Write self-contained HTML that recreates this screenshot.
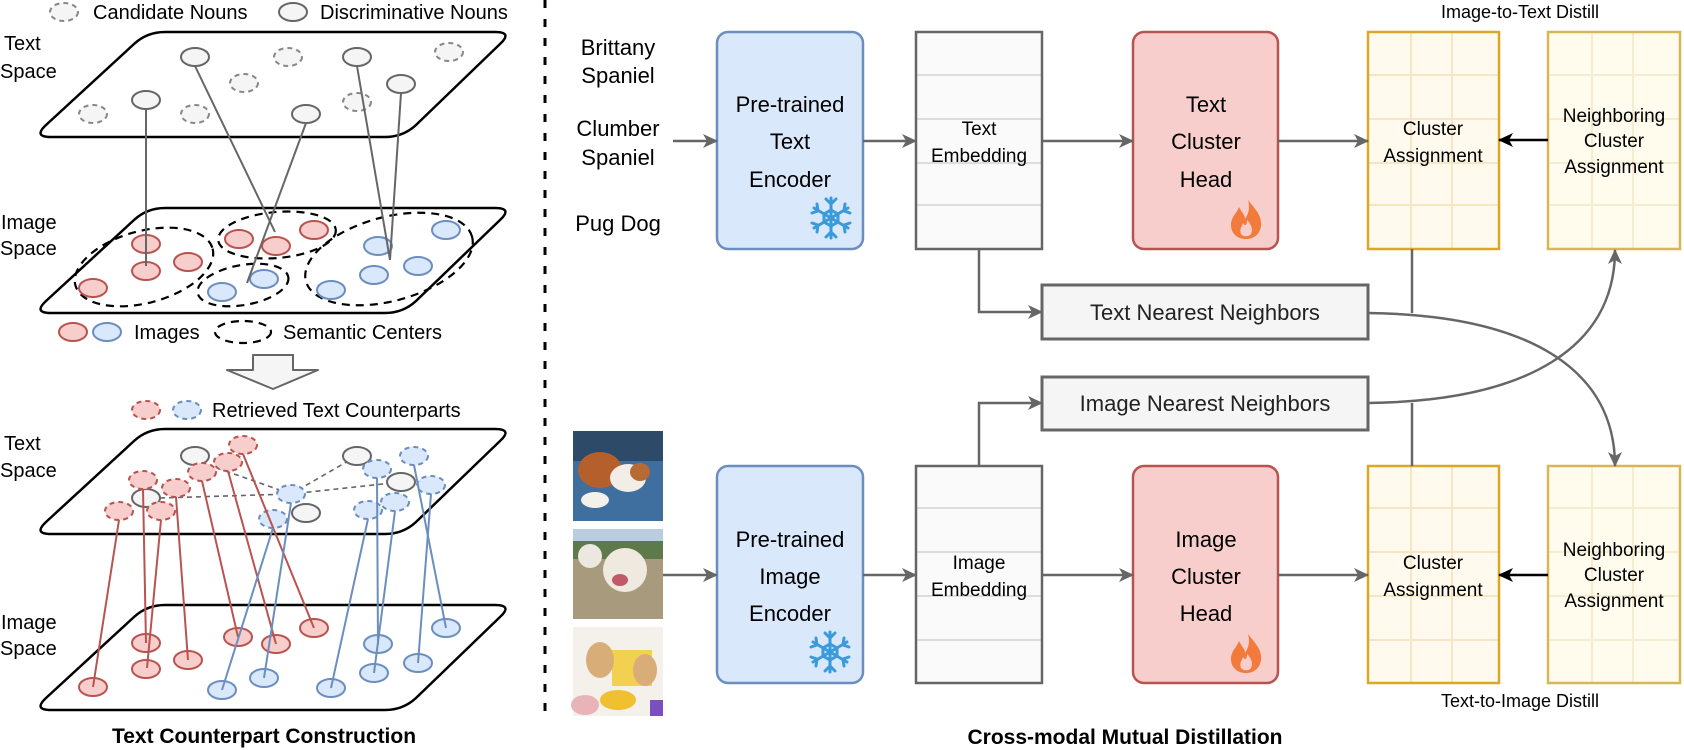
<!DOCTYPE html>
<html><head><meta charset="utf-8"><style>
html,body{margin:0;padding:0;background:#fff;}
svg{display:block;font-family:"Liberation Sans",Arial,sans-serif;}
</style></head><body>
<svg width="1684" height="750" viewBox="0 0 1684 750" xmlns="http://www.w3.org/2000/svg">
<defs>
<marker id="ag" markerUnits="userSpaceOnUse" markerWidth="16" markerHeight="14" refX="14" refY="7" orient="auto"><path d="M0,0 L15,7 L0,14 L4,7 Z" fill="#666"/></marker>
<marker id="ab" markerUnits="userSpaceOnUse" markerWidth="16" markerHeight="14" refX="14" refY="7" orient="auto"><path d="M0,0 L15,7 L0,14 L4,7 Z" fill="#000"/></marker>
<g id="snow" stroke="#3b9ad9" stroke-width="3" fill="none" stroke-linecap="round">
<line x1="0" y1="-20" x2="0" y2="20"/><line x1="-17" y1="-10" x2="17" y2="10"/><line x1="-17" y1="10" x2="17" y2="-10"/>
<polygon points="0,-8 7,-4 7,4 0,8 -7,4 -7,-4"/>
<path d="M-5,-19 L0,-14 L5,-19 M-5,19 L0,14 L5,19 M-19,-5 L-13,-7 L-14,-14 M19,5 L13,7 L14,14 M19,-5 L13,-7 L14,-14 M-19,5 L-13,7 L-14,14"/>
</g>
<g id="fire"><path d="M2,-20 C10,-10 16,-4 15,6 C14,14 8,19 0,19 C-8,19 -15,14 -15,5 C-15,-3 -9,-7 -7,-13 C-4,-7 -1,-5 -1,-1 C3,-7 4,-13 2,-20 Z" fill="#f27a3a"/><path d="M1,0 C6,5 7,10 5,14 C3,17 -3,17 -5,14 C-7,10 -4,6 -3,3 C-1,6 1,6 1,0 Z" fill="#f8cecc"/></g>
</defs>

<!-- ============ LEFT PANEL ============ -->
<g font-size="20" fill="#000">
<!-- legend 1 -->
<ellipse cx="64" cy="12" rx="14" ry="9" fill="#f5f5f5" stroke="#888" stroke-width="2" stroke-dasharray="5 4"/>
<text x="93" y="19">Candidate Nouns</text>
<ellipse cx="293" cy="12" rx="14" ry="9" fill="#f5f5f5" stroke="#666" stroke-width="2"/>
<text x="320" y="19">Discriminative Nouns</text>

<text x="4" y="50">Text</text><text x="0" y="78">Space</text>
<text x="1" y="229">Image</text><text x="0" y="255">Space</text>
<text x="4" y="450">Text</text><text x="0" y="477">Space</text>
<text x="1" y="629">Image</text><text x="0" y="655">Space</text>
</g>

<g fill="#fff" stroke="#000" stroke-width="2.5">
<path d="M165 32 L495 32 Q513 32 500 44 L416 125 Q403 137 385 137 L51 137 Q33 137 46 125 L134 44 Q147 32 165 32 Z"/>
<path d="M165 208 L495 208 Q513 208 500 220 L416 301 Q403 313 385 313 L51 313 Q33 313 46 301 L134 220 Q147 208 165 208 Z"/>
<path d="M165 429 L495 429 Q513 429 500 441 L416 522 Q403 534 385 534 L51 534 Q33 534 46 522 L134 441 Q147 429 165 429 Z"/>
<path d="M165 605 L495 605 Q513 605 500 617 L416 698 Q403 710 385 710 L51 710 Q33 710 46 698 L134 617 Q147 605 165 605 Z"/>
</g>

<!-- top text space ellipses -->
<g stroke-width="2" fill="#f5f5f5">
<g stroke="#666">
<ellipse cx="195" cy="57" rx="14" ry="9"/><ellipse cx="357" cy="57" rx="14" ry="9"/><ellipse cx="401" cy="84" rx="14" ry="9"/><ellipse cx="146" cy="100" rx="14" ry="9"/><ellipse cx="306" cy="114" rx="14" ry="9"/>
</g>
<g stroke="#888" stroke-dasharray="5 4">
<ellipse cx="288" cy="57" rx="14" ry="9"/><ellipse cx="449" cy="52" rx="14" ry="9"/><ellipse cx="244" cy="83" rx="14" ry="9"/><ellipse cx="357" cy="102" rx="14" ry="9"/><ellipse cx="93" cy="114" rx="14" ry="9"/><ellipse cx="195" cy="114" rx="14" ry="9"/>
</g>
</g>
<!-- semantic centers -->
<g fill="none" stroke="#000" stroke-width="2.2" stroke-dasharray="8 6">
<ellipse cx="144" cy="267" rx="71" ry="36" transform="rotate(-15 144 267)"/>
<ellipse cx="277" cy="235" rx="59" ry="23" transform="rotate(-5 277 235)"/>
<ellipse cx="243" cy="285" rx="46" ry="20" transform="rotate(-10 243 285)"/>
<ellipse cx="389" cy="259" rx="86" ry="42" transform="rotate(-15 389 259)"/>
</g>
<!-- image ellipses top -->
<g stroke-width="2">
<g fill="#f8cecc" stroke="#b85450">
<ellipse cx="146" cy="244" rx="14" ry="9"/><ellipse cx="146" cy="271" rx="14" ry="9"/><ellipse cx="188" cy="262" rx="14" ry="9"/><ellipse cx="93" cy="288" rx="14" ry="9"/><ellipse cx="239" cy="239" rx="14" ry="9"/><ellipse cx="276" cy="246" rx="14" ry="9"/><ellipse cx="314" cy="230" rx="14" ry="9"/>
</g>
<g fill="#dae8fc" stroke="#6c8ebf">
<ellipse cx="222" cy="292" rx="14" ry="9"/><ellipse cx="264" cy="279" rx="14" ry="9"/><ellipse cx="378" cy="246" rx="14" ry="9"/><ellipse cx="374" cy="275" rx="14" ry="9"/><ellipse cx="418" cy="266" rx="14" ry="9"/><ellipse cx="331" cy="290" rx="14" ry="9"/><ellipse cx="446" cy="230" rx="14" ry="9"/>
</g>
</g>
<g stroke="#666" stroke-width="2">
<line x1="146" y1="109" x2="146" y2="266"/>
<line x1="195" y1="66" x2="275" y2="232"/>
<line x1="306" y1="123" x2="247" y2="283"/>
<line x1="357" y1="66" x2="390" y2="260"/>
<line x1="401" y1="93" x2="390" y2="260"/>
</g>

<!-- legend 2 -->
<ellipse cx="73" cy="332" rx="14" ry="9" fill="#f8cecc" stroke="#b85450" stroke-width="2"/>
<ellipse cx="107" cy="332" rx="14" ry="9" fill="#dae8fc" stroke="#6c8ebf" stroke-width="2"/>
<text x="134" y="339" font-size="20">Images</text>
<ellipse cx="243" cy="332" rx="28" ry="11" fill="none" stroke="#000" stroke-width="2.2" stroke-dasharray="8 6"/>
<text x="283" y="339" font-size="20">Semantic Centers</text>

<!-- big arrow -->
<path d="M253 355 L293 355 L293 370 L318 370 L273 389 L227 370 L253 370 Z" fill="#f5f5f5" stroke="#666" stroke-width="2" stroke-linejoin="round"/>

<!-- legend 3 -->
<ellipse cx="146" cy="410" rx="14" ry="9" fill="#f8cecc" stroke="#b85450" stroke-width="2" stroke-dasharray="5 4"/>
<ellipse cx="187" cy="410" rx="14" ry="9" fill="#dae8fc" stroke="#6c8ebf" stroke-width="2" stroke-dasharray="5 4"/>
<text x="212" y="417" font-size="20">Retrieved Text Counterparts</text>

<!-- lower text space -->
<g stroke="#666" stroke-width="1.6" stroke-dasharray="5 4">
<line x1="200" y1="462" x2="291" y2="494"/>
<line x1="160" y1="498" x2="291" y2="494"/>
<line x1="357" y1="456" x2="291" y2="494"/>
<line x1="401" y1="482" x2="291" y2="494"/>
</g>
<g stroke-width="2">
<g fill="#f5f5f5" stroke="#666">
<ellipse cx="195" cy="456" rx="14" ry="9"/><ellipse cx="146" cy="498" rx="14" ry="9"/><ellipse cx="306" cy="513" rx="14" ry="9"/><ellipse cx="357" cy="456" rx="14" ry="9"/><ellipse cx="401" cy="482" rx="14" ry="9"/>
</g>
<g fill="#f8cecc" stroke="#b85450" stroke-dasharray="5 4">
<ellipse cx="243" cy="445" rx="14" ry="9"/><ellipse cx="228" cy="462" rx="14" ry="9"/><ellipse cx="202" cy="472" rx="14" ry="9"/><ellipse cx="143" cy="480" rx="14" ry="9"/><ellipse cx="176" cy="488" rx="14" ry="9"/><ellipse cx="119" cy="511" rx="14" ry="9"/><ellipse cx="161" cy="511" rx="14" ry="9"/>
</g>
<g fill="#dae8fc" stroke="#6c8ebf" stroke-dasharray="5 4">
<ellipse cx="291" cy="494" rx="14" ry="9"/><ellipse cx="273" cy="519" rx="14" ry="9"/><ellipse cx="377" cy="469" rx="14" ry="9"/><ellipse cx="414" cy="456" rx="14" ry="9"/><ellipse cx="431" cy="485" rx="14" ry="9"/><ellipse cx="395" cy="502" rx="14" ry="9"/><ellipse cx="368" cy="510" rx="14" ry="9"/>
</g>
</g>
<!-- lower image ellipses -->
<g stroke-width="2">
<g fill="#f8cecc" stroke="#b85450">
<ellipse cx="314" cy="628" rx="14" ry="9"/><ellipse cx="238" cy="637" rx="14" ry="9"/><ellipse cx="276" cy="644" rx="14" ry="9"/><ellipse cx="146" cy="643" rx="14" ry="9"/><ellipse cx="146" cy="669" rx="14" ry="9"/><ellipse cx="188" cy="660" rx="14" ry="9"/><ellipse cx="93" cy="687" rx="14" ry="9"/>
</g>
<g fill="#dae8fc" stroke="#6c8ebf">
<ellipse cx="446" cy="628" rx="14" ry="9"/><ellipse cx="378" cy="644" rx="14" ry="9"/><ellipse cx="418" cy="663" rx="14" ry="9"/><ellipse cx="374" cy="673" rx="14" ry="9"/><ellipse cx="264" cy="678" rx="14" ry="9"/><ellipse cx="222" cy="690" rx="14" ry="9"/><ellipse cx="331" cy="688" rx="14" ry="9"/>
</g>
</g>
<g stroke="#b85450" stroke-width="2">
<line x1="119" y1="520" x2="93" y2="687"/>
<line x1="143" y1="489" x2="146" y2="643"/>
<line x1="161" y1="520" x2="147" y2="668"/>
<line x1="176" y1="497" x2="188" y2="660"/>
<line x1="202" y1="481" x2="238" y2="637"/>
<line x1="228" y1="471" x2="276" y2="644"/>
<line x1="243" y1="454" x2="314" y2="628"/>
</g>
<g stroke="#6c8ebf" stroke-width="2">
<line x1="273" y1="528" x2="222" y2="690"/>
<line x1="291" y1="503" x2="264" y2="678"/>
<line x1="368" y1="519" x2="331" y2="688"/>
<line x1="377" y1="478" x2="378" y2="644"/>
<line x1="395" y1="511" x2="374" y2="673"/>
<line x1="414" y1="465" x2="446" y2="628"/>
<line x1="431" y1="494" x2="418" y2="663"/>
</g>

<text x="264" y="743" font-size="21" font-weight="bold" text-anchor="middle">Text Counterpart Construction</text>

<!-- divider -->
<line x1="545" y1="0" x2="545" y2="722" stroke="#000" stroke-width="3" stroke-dasharray="8 11"/>

<!-- ============ RIGHT PANEL ============ -->
<g font-size="22" text-anchor="middle">
<text x="618" y="55">Brittany</text><text x="618" y="83">Spaniel</text>
<text x="618" y="136">Clumber</text><text x="618" y="165">Spaniel</text>
<text x="618" y="231">Pug Dog</text>
</g>

<!-- images -->
<g>
<rect x="573" y="431" width="90" height="90" fill="#3f6f9e"/>
<rect x="573" y="431" width="90" height="30" fill="#2d4a68"/>
<ellipse cx="600" cy="470" rx="22" ry="18" fill="#b5602c"/>
<ellipse cx="628" cy="478" rx="18" ry="14" fill="#f2ede6"/>
<ellipse cx="640" cy="472" rx="10" ry="9" fill="#b86a34"/>
<ellipse cx="595" cy="500" rx="14" ry="8" fill="#f4f0ea"/>

<rect x="573" y="529" width="90" height="90" fill="#a89a7c"/>
<rect x="573" y="529" width="90" height="30" fill="#5f7a4a"/>
<rect x="573" y="529" width="90" height="12" fill="#b9cde0"/>
<ellipse cx="590" cy="556" rx="12" ry="12" fill="#ece8e0"/>
<ellipse cx="625" cy="570" rx="22" ry="22" fill="#efe9e0"/>
<ellipse cx="620" cy="580" rx="8" ry="6" fill="#c05a68"/>

<rect x="573" y="627" width="90" height="89" fill="#f4f0ea"/>
<rect x="612" y="650" width="40" height="36" fill="#f2d050"/>
<ellipse cx="600" cy="660" rx="14" ry="18" fill="#d9ad78"/>
<ellipse cx="645" cy="670" rx="12" ry="16" fill="#d9ad78"/>
<ellipse cx="618" cy="700" rx="18" ry="10" fill="#f0c030"/>
<ellipse cx="585" cy="705" rx="14" ry="10" fill="#e8b4b8"/>
<rect x="650" y="700" width="13" height="16" fill="#7a50c0"/>
</g>

<!-- encoders -->
<rect x="717" y="32" width="146" height="217" rx="11" fill="#dae8fc" stroke="#6c8ebf" stroke-width="2.5"/>
<rect x="717" y="466" width="146" height="217" rx="11" fill="#dae8fc" stroke="#6c8ebf" stroke-width="2.5"/>
<g font-size="22" text-anchor="middle">
<text x="790" y="112">Pre-trained</text><text x="790" y="149">Text</text><text x="790" y="187">Encoder</text>
<text x="790" y="547">Pre-trained</text><text x="790" y="584">Image</text><text x="790" y="621">Encoder</text>
</g>
<use href="#snow" x="831" y="218"/>
<use href="#snow" x="830" y="652"/>

<!-- embeddings -->
<g stroke="#ddd" stroke-width="2">
<rect x="916" y="32" width="126" height="217" fill="#fafafa" stroke="none"/>
<rect x="916" y="466" width="126" height="217" fill="#fafafa" stroke="none"/>
<line x1="916" y1="75" x2="1042" y2="75"/><line x1="916" y1="119" x2="1042" y2="119"/><line x1="916" y1="163" x2="1042" y2="163"/><line x1="916" y1="205" x2="1042" y2="205"/>
<line x1="916" y1="508" x2="1042" y2="508"/><line x1="916" y1="552" x2="1042" y2="552"/><line x1="916" y1="596" x2="1042" y2="596"/><line x1="916" y1="640" x2="1042" y2="640"/>
</g>
<rect x="916" y="32" width="126" height="217" fill="none" stroke="#666" stroke-width="2.5"/>
<rect x="916" y="466" width="126" height="217" fill="none" stroke="#666" stroke-width="2.5"/>
<g font-size="19" text-anchor="middle">
<text x="979" y="135">Text</text><text x="979" y="162">Embedding</text>
<text x="979" y="569">Image</text><text x="979" y="596">Embedding</text>
</g>

<!-- cluster heads -->
<rect x="1133" y="32" width="145" height="217" rx="11" fill="#f8cecc" stroke="#b85450" stroke-width="2.5"/>
<rect x="1133" y="466" width="145" height="217" rx="11" fill="#f8cecc" stroke="#b85450" stroke-width="2.5"/>
<g font-size="22" text-anchor="middle">
<text x="1206" y="112">Text</text><text x="1206" y="149">Cluster</text><text x="1206" y="187">Head</text>
<text x="1206" y="547">Image</text><text x="1206" y="584">Cluster</text><text x="1206" y="621">Head</text>
</g>
<use href="#fire" x="1246" y="220"/>
<use href="#fire" x="1246" y="654"/>

<!-- cluster assignment -->
<g>
<rect x="1368" y="32" width="131" height="217" fill="#fff9ee"/>
<rect x="1368" y="466" width="131" height="217" fill="#fff9ee"/>
<g stroke="#f6e6c4" stroke-width="2">
<line x1="1411" y1="32" x2="1411" y2="249"/><line x1="1452" y1="32" x2="1452" y2="249"/>
<line x1="1368" y1="75" x2="1499" y2="75"/><line x1="1368" y1="119" x2="1499" y2="119"/><line x1="1368" y1="163" x2="1499" y2="163"/><line x1="1368" y1="205" x2="1499" y2="205"/>
<line x1="1411" y1="466" x2="1411" y2="683"/><line x1="1452" y1="466" x2="1452" y2="683"/>
<line x1="1368" y1="508" x2="1499" y2="508"/><line x1="1368" y1="552" x2="1499" y2="552"/><line x1="1368" y1="596" x2="1499" y2="596"/><line x1="1368" y1="640" x2="1499" y2="640"/>
</g>
<rect x="1368" y="32" width="131" height="217" fill="none" stroke="#d9a826" stroke-width="2.5"/>
<rect x="1368" y="466" width="131" height="217" fill="none" stroke="#d9a826" stroke-width="2.5"/>
</g>
<g font-size="19" text-anchor="middle">
<text x="1433" y="135">Cluster</text><text x="1433" y="162">Assignment</text>
<text x="1433" y="569">Cluster</text><text x="1433" y="596">Assignment</text>
</g>

<!-- neighboring -->
<g>
<rect x="1548" y="32" width="132" height="217" fill="#fffcee"/>
<rect x="1548" y="466" width="132" height="217" fill="#fffcee"/>
<g stroke="#f5ecd2" stroke-width="2">
<line x1="1592" y1="32" x2="1592" y2="249"/><line x1="1633" y1="32" x2="1633" y2="249"/>
<line x1="1548" y1="75" x2="1680" y2="75"/><line x1="1548" y1="119" x2="1680" y2="119"/><line x1="1548" y1="163" x2="1680" y2="163"/><line x1="1548" y1="205" x2="1680" y2="205"/>
<line x1="1592" y1="466" x2="1592" y2="683"/><line x1="1633" y1="466" x2="1633" y2="683"/>
<line x1="1548" y1="508" x2="1680" y2="508"/><line x1="1548" y1="552" x2="1680" y2="552"/><line x1="1548" y1="596" x2="1680" y2="596"/><line x1="1548" y1="640" x2="1680" y2="640"/>
</g>
<rect x="1548" y="32" width="132" height="217" fill="none" stroke="#d6b656" stroke-width="2.5"/>
<rect x="1548" y="466" width="132" height="217" fill="none" stroke="#d6b656" stroke-width="2.5"/>
</g>
<g font-size="19" text-anchor="middle">
<text x="1614" y="122">Neighboring</text><text x="1614" y="147">Cluster</text><text x="1614" y="173">Assignment</text>
<text x="1614" y="556">Neighboring</text><text x="1614" y="581">Cluster</text><text x="1614" y="607">Assignment</text>
</g>

<text x="1520" y="18" font-size="18" text-anchor="middle">Image-to-Text Distill</text>
<text x="1520" y="707" font-size="18" text-anchor="middle">Text-to-Image Distill</text>

<!-- NN boxes -->
<rect x="1042" y="285" width="326" height="54" fill="#f5f5f5" stroke="#666" stroke-width="3"/>
<rect x="1042" y="377" width="326" height="53" fill="#f5f5f5" stroke="#666" stroke-width="3"/>
<g font-size="22" text-anchor="middle" fill="#222">
<text x="1205" y="320">Text Nearest Neighbors</text>
<text x="1205" y="411">Image Nearest Neighbors</text>
</g>

<!-- arrows -->
<g stroke="#666" stroke-width="2.5" fill="none">
<line x1="673" y1="141" x2="717" y2="141" marker-end="url(#ag)"/>
<line x1="863" y1="141" x2="916" y2="141" marker-end="url(#ag)"/>
<line x1="1042" y1="141" x2="1133" y2="141" marker-end="url(#ag)"/>
<line x1="1278" y1="141" x2="1368" y2="141" marker-end="url(#ag)"/>
<line x1="663" y1="575" x2="717" y2="575" marker-end="url(#ag)"/>
<line x1="863" y1="575" x2="916" y2="575" marker-end="url(#ag)"/>
<line x1="1042" y1="575" x2="1133" y2="575" marker-end="url(#ag)"/>
<line x1="1278" y1="575" x2="1368" y2="575" marker-end="url(#ag)"/>
<path d="M979 249 V312 H1042" marker-end="url(#ag)"/>
<path d="M979 466 V403 H1042" marker-end="url(#ag)"/>
<line x1="1412" y1="249" x2="1412" y2="313"/>
<line x1="1412" y1="403" x2="1412" y2="466"/>
<path d="M1368 313 C1530 315 1615 370 1615 466" marker-end="url(#ag)"/>
<path d="M1368 403 C1530 401 1615 346 1615 250" marker-end="url(#ag)"/>
</g>
<g stroke="#000" stroke-width="2.5">
<line x1="1548" y1="140" x2="1499" y2="140" marker-end="url(#ab)"/>
<line x1="1548" y1="575" x2="1499" y2="575" marker-end="url(#ab)"/>
</g>

<text x="1125" y="744" font-size="21" font-weight="bold" text-anchor="middle">Cross-modal Mutual Distillation</text>
</svg>
</body></html>
